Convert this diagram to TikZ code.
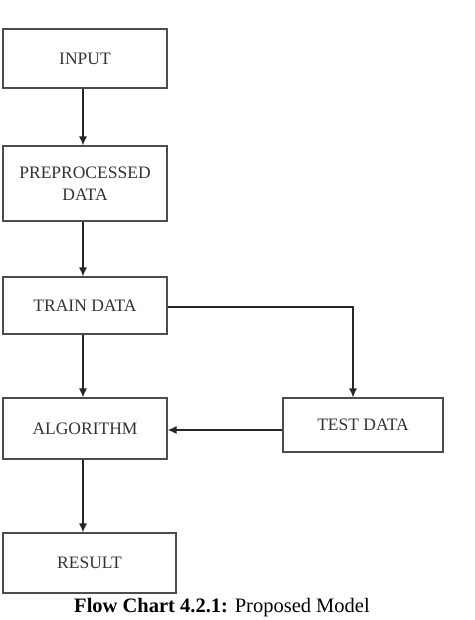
\documentclass[tikz,border=0pt]{standalone}
\usepackage{fontspec}
\setmainfont{Liberation Serif}
\usepackage{tikz}
\usetikzlibrary{arrows.meta,calc,positioning}
\definecolor{boxline}{gray}{0.3}
\definecolor{boxtext}{gray}{0.2}

\tikzset{
  flowbox/.style={draw=boxline, line width=1.2pt, rectangle, align=center,
    text=boxtext, font=\fontsize{17.5}{21}\selectfont},
  flowarrow/.style={draw=black!85, line width=1.2pt, -{Latex[length=9pt,width=8pt]}}
}

\begin{document}
\begin{tikzpicture}[x=1pt,y=-1pt]
        \useasboundingbox (0,0) rectangle (474,620);
        % Draw the boxes
        \node[flowbox, minimum width=164pt, minimum height=59pt] (input) at (85,58.5) {INPUT};
        \node[flowbox, minimum width=164pt, minimum height=75pt] (prep) at (85,183.5) {PREPROCESSED\\[1pt]DATA};
        \node[flowbox, minimum width=164pt, minimum height=57pt] (train) at (85,305.5) {TRAIN DATA};
        \node[flowbox, minimum width=164pt, minimum height=61pt] (algo) at (85,428.5) {ALGORITHM};
        \node[flowbox, minimum width=160pt, minimum height=54pt] (test) at (363,425) {TEST DATA};
        \node[flowbox, minimum width=173pt, minimum height=60pt] (result) at (89.5,563) {RESULT};
        % caption
        \node (caption) at (222,608) {\fontsize{20.5}{24}\selectfont\textbf{Flow Chart 4.2.1:} Proposed Model};
        % arrows
        \draw[flowarrow] ([xshift=-2pt]input.south) -- ([xshift=-2pt]prep.north);
        \draw[flowarrow] ([xshift=-2pt]prep.south) -- ([xshift=-2pt]train.north);
        \draw[flowarrow] ([xshift=-2pt]train.south) -- ([xshift=-2pt]algo.north);
        \draw[flowarrow] ([xshift=-2pt]algo.south) -- ([xshift=-2pt]algo.south |- result.north);
        \draw[flowarrow] ([yshift=-1.5pt]train.east) -| ([xshift=-10pt]test.north);
        \draw[flowarrow] ([yshift=-1.5pt]algo.east -| test.west) -- ([yshift=-1.5pt]algo.east);
      \end{tikzpicture}
\end{document}
